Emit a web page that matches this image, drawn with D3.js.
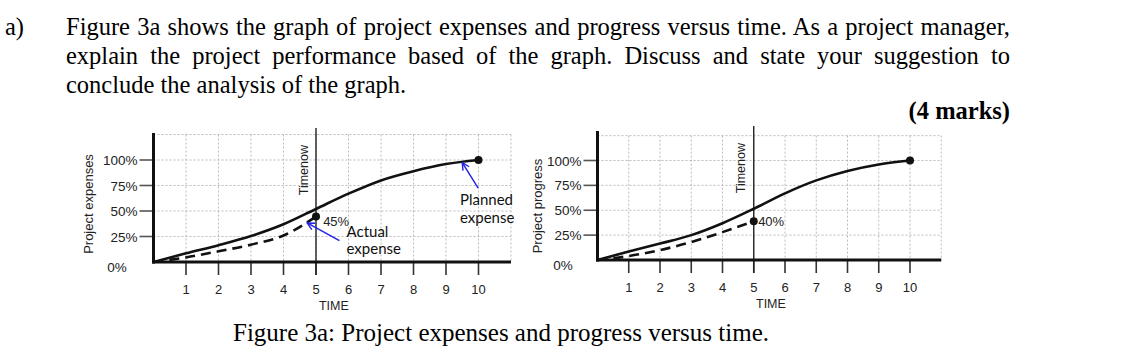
<!DOCTYPE html>
<html>
<head>
<meta charset="utf-8">
<script src="https://cdn.jsdelivr.net/npm/d3@7"></script>
<style>
  body { margin: 0; background: #fff; }
  svg { display: block; }
  .serif { font-family: "Liberation Serif", "Times New Roman", serif; fill: #000; }
  .sans { font-family: "Liberation Sans", Arial, sans-serif; fill: #222; }
  .note { font-family: Lato, "Open Sans", sans-serif; fill: #111; }
</style>
</head>
<body>
<div id="wrapper"></div>
<script>
// data
const time = [0, 1, 2, 3, 4, 5, 6, 7, 8, 9, 10]
const plannedExpense = [0, 8.5, 16.5, 25.5, 37, 52, 67, 80, 89, 96, 100]
const actualTime = [0, 1, 2, 3, 4, 5]
const actualExpense = [0, 4.5, 10.5, 17, 26, 44.5]
const plannedProgress = [0, 8.5, 16.5, 25, 37, 51.5, 67, 80, 89.5, 96, 100]
const actualProgress = [0, 4, 10, 18, 28, 39]
const timeTicks = [1, 2, 3, 4, 5, 6, 7, 8, 9, 10]
const percentTicks = [25, 50, 75, 100]

const questionLines = [
  "Figure 3a shows the graph of project expenses and progress versus time. As a project manager,",
  "explain the project performance based of the graph. Discuss and state your suggestion to",
  "conclude the analysis of the graph."
]

const width = 1132
const height = 362

const svg = d3.select("#wrapper")
  .append("svg")
    .attr("width", width)
    .attr("height", height)

// arrow marker (open V)
const defs = svg.append("defs")
defs.append("marker")
    .attr("id", "vhead")
    .attr("viewBox", "0 0 10 10")
    .attr("refX", 9)
    .attr("refY", 5)
    .attr("markerWidth", 9)
    .attr("markerHeight", 9)
    .attr("markerUnits", "userSpaceOnUse")
    .attr("orient", "auto")
  .append("path")
    .attr("d", "M1,1 L9,5 L1,9")
    .attr("fill", "none")
    .attr("stroke", "#2424e6")
    .attr("stroke-width", 1.6)

// question text
const serifSize = "24.5px"
svg.append("text")
    .attr("class", "serif")
    .attr("x", 5)
    .attr("y", 35)
    .style("font-size", serifSize)
    .text("a)")

const textLeft = 66
const textRight = 1010
questionLines.forEach((line, i) => {
  const t = svg.append("text")
      .attr("class", "serif")
      .attr("x", textLeft)
      .attr("y", 35 + i * 29)
      .style("font-size", serifSize)
      .text(line)
  // justify all but the last line
  if (i < questionLines.length - 1) {
    const natural = t.node().getComputedTextLength()
    const gaps = line.split(" ").length - 1
    t.attr("word-spacing", (textRight - textLeft - natural) / gaps)
  }
})

svg.append("text")
    .attr("class", "serif")
    .attr("x", textRight)
    .attr("y", 119)
    .attr("text-anchor", "end")
    .style("font-size", serifSize)
    .style("font-weight", "bold")
    .text("(4 marks)")

svg.append("text")
    .attr("class", "serif")
    .attr("x", 233)
    .attr("y", 341)
    .style("font-size", "25px")
    .text("Figure 3a: Project expenses and progress versus time.")

function drawChart(cfg) {
  const x = d3.scaleLinear()
    .domain([0, 11])
    .range([cfg.x0, cfg.x0 + 11 * cfg.unit])
  const y = d3.scaleLinear()
    .domain([0, 100])
    .range([cfg.y0, cfg.y0 - cfg.h100])

  const g = svg.append("g")

  // grid
  const gridTop = y(125)
  g.selectAll(".vgrid")
    .data(d3.range(1, 12))
    .join("line")
      .attr("x1", d => x(d))
      .attr("x2", d => x(d))
      .attr("y1", gridTop)
      .attr("y2", cfg.y0)
      .attr("stroke", "#aaa")
      .attr("stroke-width", 0.8)
      .attr("stroke-dasharray", "2,2")
  g.selectAll(".hgrid")
    .data([25, 50, 75, 100, 125])
    .join("line")
      .attr("x1", cfg.x0)
      .attr("x2", x(11))
      .attr("y1", d => y(d))
      .attr("y2", d => y(d))
      .attr("stroke", "#aaa")
      .attr("stroke-width", 0.8)
      .attr("stroke-dasharray", "2,2")

  // y ticks + labels
  g.selectAll(".ytick")
    .data(percentTicks)
    .join("line")
      .attr("x1", cfg.x0 - 14)
      .attr("x2", cfg.x0)
      .attr("y1", d => y(d))
      .attr("y2", d => y(d))
      .attr("stroke", "#555")
      .attr("stroke-width", 1.6)
  g.selectAll(".ylabel")
    .data(percentTicks)
    .join("text")
      .attr("class", "sans")
      .attr("x", cfg.x0 - 16)
      .attr("y", d => y(d) + 5)
      .attr("text-anchor", "end")
      .style("font-size", "13.5px")
      .text(d => d + "%")
  g.append("text")
      .attr("class", "sans")
      .attr("x", cfg.zeroX)
      .attr("y", cfg.y0 + 10)
      .attr("text-anchor", "middle")
      .style("font-size", "13.5px")
      .text("0%")

  // y title
  g.append("text")
      .attr("class", "sans")
      .attr("transform", `translate(${cfg.titleX},${cfg.titleY}) rotate(-90)`)
      .attr("text-anchor", "middle")
      .style("font-size", "13px")
      .text(cfg.title)

  // x ticks + labels
  g.selectAll(".xtick")
    .data(timeTicks)
    .join("line")
      .attr("x1", d => x(d))
      .attr("x2", d => x(d))
      .attr("y1", cfg.y0)
      .attr("y2", cfg.y0 + 13)
      .attr("stroke", "#333")
      .attr("stroke-width", 1.6)
  g.selectAll(".xlabel")
    .data(timeTicks)
    .join("text")
      .attr("class", "sans")
      .attr("x", d => x(d))
      .attr("y", cfg.y0 + 31.5)
      .attr("text-anchor", "middle")
      .style("font-size", "13px")
      .text(d => d)
  g.append("text")
      .attr("class", "sans")
      .attr("x", x(5.55))
      .attr("y", cfg.y0 + 48)
      .attr("text-anchor", "middle")
      .style("font-size", "12.5px")
      .text("TIME")

  // time now
  g.append("line")
      .attr("x1", x(5))
      .attr("x2", x(5))
      .attr("y1", cfg.y0 - 134)
      .attr("y2", cfg.y0 + 13)
      .attr("stroke", "#222")
      .attr("stroke-width", 1.4)
  g.append("text")
      .attr("class", "sans")
      .attr("transform", `translate(${x(5) - 8.5},${cfg.y0 - 117}) rotate(-90)`)
      .attr("text-anchor", "end")
      .style("font-size", "12.5px")
      .text("Timenow")

  // axes
  g.append("line")
      .attr("x1", cfg.x0)
      .attr("x2", cfg.x0)
      .attr("y1", cfg.y0 - 129)
      .attr("y2", cfg.y0 + 1.5)
      .attr("stroke", "#111")
      .attr("stroke-width", 3)
  g.append("line")
      .attr("x1", cfg.x0 - 1.5)
      .attr("x2", x(11))
      .attr("y1", cfg.y0)
      .attr("y2", cfg.y0)
      .attr("stroke", "#111")
      .attr("stroke-width", 3)

  const line = d3.line()
    .x(d => x(d[0]))
    .y(d => y(d[1]))
    .curve(d3.curveMonotoneX)

  // planned (solid)
  g.append("path")
      .attr("d", line(d3.zip(time, cfg.planned)))
      .attr("fill", "none")
      .attr("stroke", "#111")
      .attr("stroke-width", 2.6)
  // actual (dashed)
  g.append("path")
      .attr("d", line(d3.zip(actualTime, cfg.actual)))
      .attr("fill", "none")
      .attr("stroke", "#111")
      .attr("stroke-width", 2.6)
      .attr("stroke-dasharray", "10,6")

  g.selectAll(".dot")
    .data([[10, cfg.planned[cfg.planned.length - 1]], [5, cfg.actual[cfg.actual.length - 1]]])
    .join("circle")
      .attr("cx", d => x(d[0]))
      .attr("cy", d => y(d[1]))
      .attr("r", 4)
      .attr("fill", "#111")

  g.append("text")
      .attr("class", "sans")
      .attr("x", x(cfg.pctLabel[0]))
      .attr("y", y(cfg.pctLabel[1]))
      .style("font-size", "13px")
      .text(cfg.pctText)

  return { x, y, g }
}

const left = drawChart({
  x0: 153.5, unit: 32.5, y0: 262, h100: 102,
  zeroX: 117, titleX: 93, titleY: 204,
  title: "Project expenses",
  planned: plannedExpense, actual: actualExpense,
  pctLabel: [5.22, 35.3], pctText: "45%"
})

const right = drawChart({
  x0: 597.5, unit: 31.25, y0: 260, h100: 99.5,
  zeroX: 563, titleX: 542, titleY: 206,
  title: "Project progress",
  planned: plannedProgress, actual: actualProgress,
  pctLabel: [5.14, 34.2], pctText: "40%"
})

// annotations on the expenses chart
const notes = [
  { lines: ["Actual", "expense"], at: [5.94, 24.8] },
  { lines: ["Planned", "expense"], at: [9.43, 55.5] }
]
notes.forEach(n => {
  const t = left.g.append("text")
      .attr("class", "note")
      .attr("x", left.x(n.at[0]))
      .attr("y", left.y(n.at[1]))
      .style("font-size", "15px")
  n.lines.forEach((l, i) => {
    t.append("tspan")
        .attr("x", left.x(n.at[0]))
        .attr("dy", i === 0 ? 0 : 17.5)
        .text(l)
  })
})

const arrows = [
  { from: [5.72, 21.0], to: [4.73, 38.3] },
  { from: [9.99, 72.5], to: [9.5, 97.5] }
]
left.g.selectAll(".arrow")
  .data(arrows)
  .join("line")
    .attr("x1", d => left.x(d.from[0]))
    .attr("y1", d => left.y(d.from[1]))
    .attr("x2", d => left.x(d.to[0]))
    .attr("y2", d => left.y(d.to[1]))
    .attr("stroke", "#2424e6")
    .attr("stroke-width", 1.5)
    .attr("marker-end", "url(#vhead)")
</script>
</body>
</html>
